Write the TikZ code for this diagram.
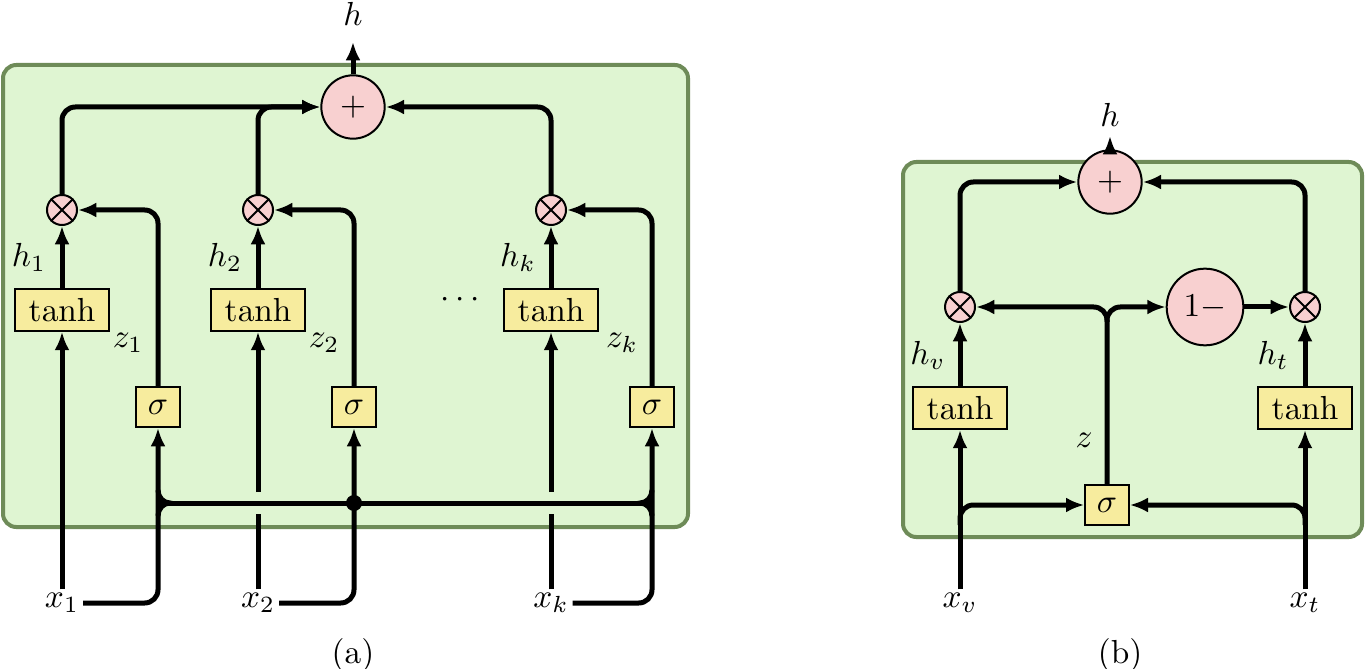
\documentclass[tikz,border=0pt]{standalone}
\usetikzlibrary{arrows.meta}
\definecolor{panel}{HTML}{DFF5D2}
\definecolor{paneledge}{HTML}{6E8B58}
\definecolor{opfill}{HTML}{F8D0D0}
\definecolor{boxfill}{HTML}{F7EC9E}
\begin{document}
\begin{tikzpicture}[x=0.3pt,y=-0.3pt,
  panelbox/.style={fill=panel,draw=paneledge,line width=1.2pt,rounded corners=4pt},
  wire/.style={line width=1.5pt,rounded corners=4pt},
  arr/.style={wire,-{Latex[length=5.5pt,width=4.5pt]}},
  plus/.style={circle,draw,line width=0.6pt,fill=opfill,minimum size=19pt,inner sep=0pt},
  onem/.style={circle,draw,line width=0.6pt,fill=opfill,minimum size=23pt,inner sep=0pt},
  mul/.style={circle,draw,line width=0.6pt,fill=opfill,minimum size=9pt,inner sep=0pt},
  tanhbox/.style={draw,line width=0.6pt,fill=boxfill,minimum width=28pt,minimum height=12.5pt,inner sep=1pt},
  sigbox/.style={draw,line width=0.6pt,fill=boxfill,minimum width=13pt,minimum height=12pt,inner sep=0.5pt},
  lab/.style={inner sep=1pt}]
\useasboundingbox (0,0) rectangle (1366,669);
% ---- panel (a) ----
\draw[panelbox] (3,65) rectangle (688,527);
\node[plus] (pa) at (353,107) {$+$};
\node[lab] (ha) at (353,14) {$h$};
\coordinate (hta) at (353,42);
\draw[arr] (pa) -- (hta);
\foreach \i/\x/\s/\n/\hl in {1/62/158/1/h_1,2/258/354/2/h_2,3/551/652/k/h_k}{
  \node[mul] (m\i) at (\x,210) {};
  \draw[line width=0.6pt] (m\i.north west) -- (m\i.south east) (m\i.north east) -- (m\i.south west);
  \node[tanhbox] (t\i) at (\x,310) {$\tanh$};
  \node[sigbox] (s\i) at (\s,407) {$\sigma$};
  \node[lab] (x\i) at (\x,603) {$x_{\n}$};
  \node[lab] (hl\i) at (\x-33,257) {$\hl$};
  \node[lab] (zl\i) at (\s-30,343) {$z_{\n}$};
  \draw[arr] (t\i) -- (m\i);
  \draw[arr] (s\i.north) |- (m\i.east);
  \coordinate (c\i) at (\s,603);
  \draw[arr] (x\i.east) -- (c\i) -- (s\i.south);
}
\draw[arr] (m1.north) |- (pa.west);
\draw[arr] (m2.north) |- (pa.west);
\draw[arr] (m3.north) |- (pa.east);
% inputs to tanh (gaps at the bus)
\draw[arr] (x1.north) -- (t1.south);
\draw[wire] (x2.north) -- (258,514);
\draw[arr] (258,492) -- (t2.south);
\draw[wire] (x3.north) -- (551,514);
\draw[arr] (551,492) -- (t3.south);
% shared bus
\draw[wire] (158,503) -- (652,503);
\draw[line width=1.5pt] (158,490) to[out=-90,in=180] (170,503) to[out=180,in=90] (158,516);
\draw[line width=1.5pt] (652,490) to[out=-90,in=0] (640,503) to[out=0,in=90] (652,516);
\fill (354,503) circle (2.4pt);
\node[lab] (dots) at (460,300) {$\cdots$};
\node (capa) at (353,655) {(a)};
% ---- panel (b) ----
\draw[panelbox] (903,162) rectangle (1362,537);
\node[plus] (pb) at (1110,182) {$+$};
\node[lab] (hb) at (1110,115) {$h$};
\coordinate (htb) at (1110,136);
\draw[arr] (pb) -- (htb);
\node[mul] (mv) at (960,307) {};
\node[mul] (mt) at (1305,307) {};
\foreach \m in {mv,mt}{
  \draw[line width=0.6pt] (\m.north west) -- (\m.south east) (\m.north east) -- (\m.south west);
}
\node[onem] (om) at (1205,307) {$1-$};
\node[tanhbox] (tv) at (960,408) {$\tanh$};
\node[tanhbox] (tt) at (1305,408) {$\tanh$};
\node[sigbox] (sb) at (1107,505) {$\sigma$};
\node[lab] (hv) at (928,355) {$h_v$};
\node[lab] (ht) at (1273,355) {$h_t$};
\node[lab] (zb) at (1084,440) {$z$};
\node[lab] (xv) at (960,603) {$x_v$};
\node[lab] (xt) at (1305,603) {$x_t$};
\draw[arr] (xv.north) -- (tv.south);
\draw[arr] (xt.north) -- (tt.south);
\draw[arr] (960,525) |- (sb.west);
\draw[arr] (1305,525) |- (sb.east);
\draw[arr] (tv) -- (mv);
\draw[arr] (tt) -- (mt);
\draw[arr] (sb.north) -- (1107,307) -- (mv.east);
\draw[arr] (1107,322) -- (1107,307) -- (om.west);
\draw[arr] (om.east) -- (mt.west);
\draw[arr] (mv.north) |- (pb.west);
\draw[arr] (mt.north) |- (pb.east);
\node (capb) at (1120,655) {(b)};
\end{tikzpicture}
\end{document}
